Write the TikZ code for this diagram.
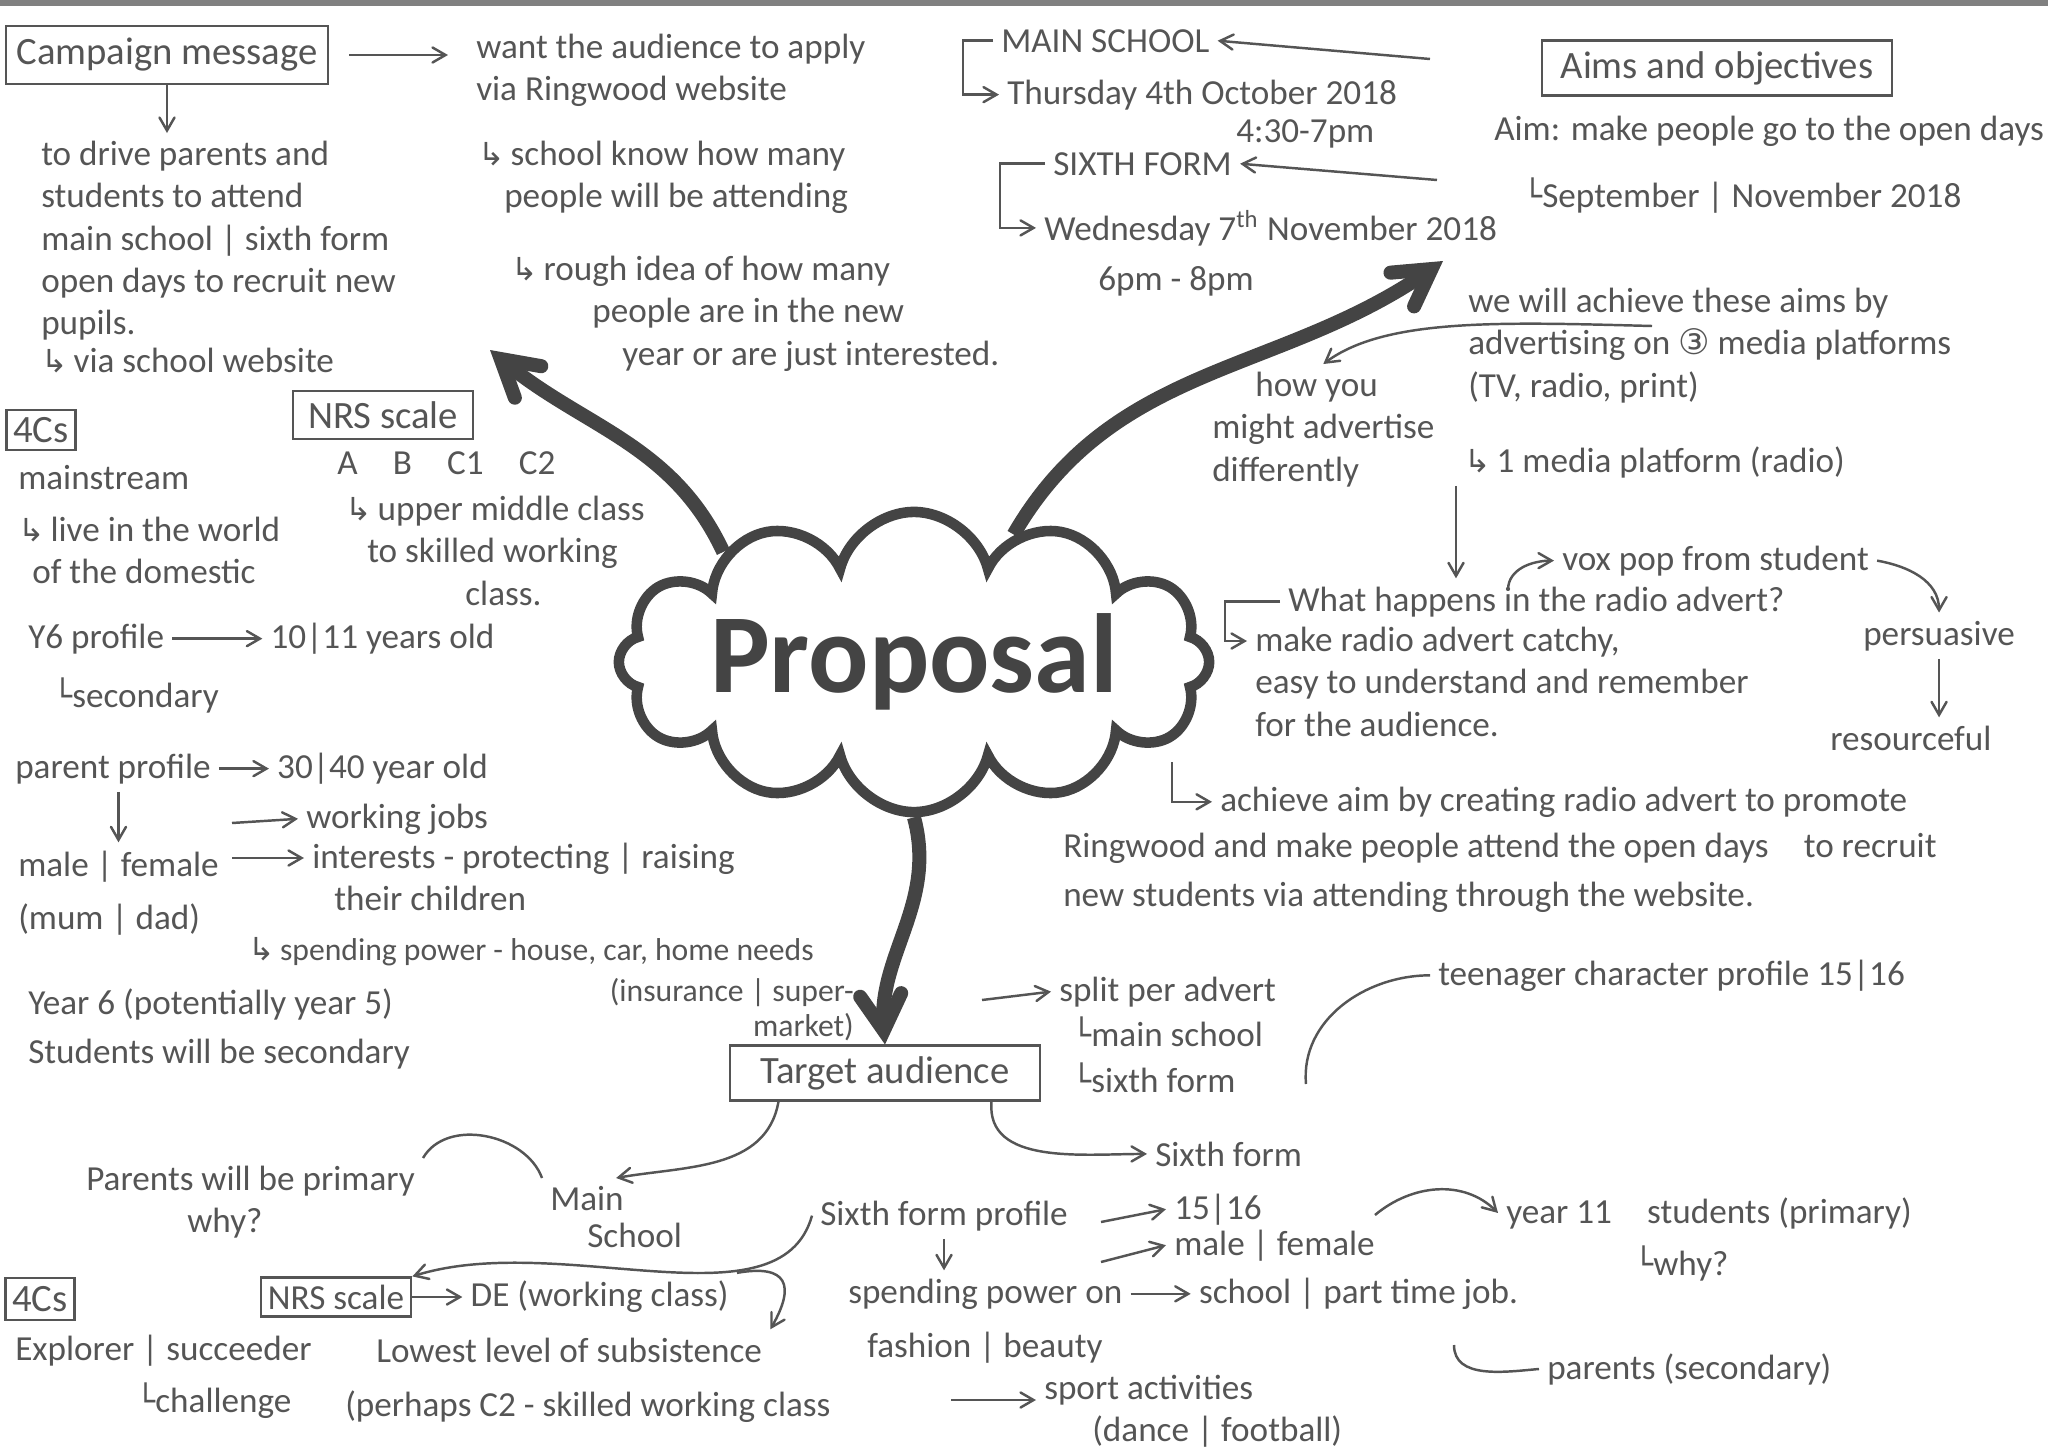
\documentclass[tikz,border=0pt]{standalone}
\usepackage{fontspec}
\setmainfont{Carlito}
\newfontfamily\symfont{DejaVu Sans}
\usepackage{tikz}
\usetikzlibrary{positioning,shapes.symbols,arrows}
\definecolor{pen}{HTML}{555555}
\definecolor{marker}{HTML}{444444}
\newcommand{\hk}{{\symfont\small ↳}\,}
\newcommand{\crn}{{\symfont\small └}}

\begin{document}
\begin{tikzpicture}[->,>=angle 60,x=0.01cm,y=-0.01cm,color=pen,line width=0.7pt,
    note/.style={anchor=base west,align=left,inner sep=2pt,font=\fontsize{10}{12}\selectfont},
    block/.style={note,anchor=north west},
    small/.style={font=\fontsize{9}{10}\selectfont},
    box/.style={draw,rectangle,inner sep=3pt,font=\fontsize{11}{13}\selectfont},
    marker/.style={draw=marker,line width=4pt}]
    \useasboundingbox (0,0) rectangle (2048,1448);
    \draw[-,line width=1.5pt,gray] (0,3) -- (2048,3);

    % campaign message
    \node[box,minimum width=3.1cm,minimum height=0.58cm] (CM) at (167,55) {Campaign message};
    \node[block] (WA) at (468,26) {want the audience to apply\\via Ringwood website};
    \draw[shorten <=2mm,shorten >=2mm] (CM.east) -- (CM.east -| WA.west);
    \node[block] (DR) at (33,133) {to drive parents and\\students to attend\\main school | sixth form\\open days to recruit new\\pupils.};
    \draw (CM.south) -- (CM.south |- DR.north);
    \node[note] (VS) at (33,372) {\hk via school website};
    \node[block] (SK) at (470,133) {\hk school know how many\\\hspace*{0.26cm}people will be attending};
    \node[block] (RI) at (503,248) {\hk rough idea of how many\\\hspace*{0.81cm}people are in the new\\\hspace*{1.11cm}year or are just interested.};

    % open days
    \node[note] (MS) at (993,52) {MAIN SCHOOL};
    \node[note] (TH) at (999,104) {Thursday 4th October 2018};
    \node[note] (TM) at (1228,142) {4:30-7pm};
    \node[note] (SF) at (1045,175) {SIXTH FORM};
    \node[note] (WE) at (1036,240) {Wednesday 7\textsuperscript{th} November 2018};
    \node[note] (PM) at (1090,290) {6pm - 8pm};
    \coordinate (msT) at (1430,59);
    \coordinate (sfT) at (1437,180);
    \draw (msT) -- (MS.east);
    \draw (sfT) -- (SF.east);
    \draw (MS.west) -- ++(-30,0) |- (TH.west);
    \draw (SF.west) -- ++(-45,0) |- (WE.west);

    % aims and objectives
    \node[box,minimum width=3.5cm,minimum height=0.5cm] (AO) at (1717,68) {Aims and objectives};
    \node[note] (AIM) at (1486,140) {Aim: make people go to the open days};
    \node[note] (SEP) at (1515,207) {\crn September | November 2018};
    \node[block] (WW) at (1460,280) {we will achieve these aims by\\advertising on {\symfont ③} media platforms\\(TV, radio, print)};
    \node[block] (HY) at (1204,364) {\hspace*{0.43cm}how you\\might advertise\\differently};
    \coordinate (hyT) at (1652,326);
    \draw (hyT) .. controls (1500,322) and (1385,318) .. (HY.north);
    \node[note] (MP) at (1456,472) {\hk 1 media platform (radio)};
    \node[note] (WH) at (1280,611) {What happens in the radio advert?};
    \draw (MP.south west) -- (MP.south west |- WH.north);
    \node[note] (VP) at (1554,570) {vox pop from student};
    \coordinate (vpT) at (1508,590);
    \draw (vpT) to[out=90,in=180] (VP.west);
    \node[note] (PE) at (1855,645) {persuasive};
    \draw (VP.east) to[out=-10,in=90] (PE.north);
    \node[note] (RF) at (1822,750) {resourceful};
    \draw (PE.south) -- (PE.south |- RF.north);
    \node[block] (MR) at (1247,619) {make radio advert catchy,\\easy to understand and remember\\for the audience.};
    \draw (WH.west) -- ++(-55,0) |- ([yshift=-2.2mm]MR.north west);
    \coordinate (aaT) at (1172,762);
    \node[note] (AA) at (1212,811) {achieve aim by creating radio advert to promote};
    \draw (aaT) |- (AA.west);
    \node[block] (RW) at (1055,825) {Ringwood and make people attend the open days\quad to recruit\\[2pt]new students via attending through the website.};

    % 4Cs and NRS scale
    \node[box,inner sep=2pt,minimum width=0.62cm,minimum height=0.4cm] (C4) at (41,430) {4Cs};
    \node[box,minimum width=1.8cm,minimum height=0.44cm] (NR) at (383,415) {NRS scale};
    \node[note] (MA) at (10,489) {mainstream};
    \node[block] (LW) at (10,509) {\hk live in the world\\\hspace*{0.14cm}of the domestic};
    \node[note] (AB) at (329,474) {A\quad B\quad C1\quad C2};
    \node[block] (UM) at (337,488) {\hk upper middle class\\\hspace*{0.22cm}to skilled working\\\hspace*{1.2cm}class.};
    \node[note] (Y6) at (20,648) {Y6 profile};
    \node[note,right=9mm of Y6] (YO) {10|11 years old};
    \draw (Y6) -- (YO);
    \node[note] (SC) at (45,707) {\crn secondary};
    \node[note] (PP) at (7,778) {parent profile};
    \node[note,right=5mm of PP] (PO) {30|40 year old};
    \draw (PP) -- (PO);
    \node[note] (MF) at (10,876) {male | female};
    \draw (MF.north |- PP.south) -- (MF.north);
    \coordinate (wjT) at (232,823);
    \node[note] (WJ) at (298,828) {working jobs};
    \draw (wjT) -- (WJ.west);
    \coordinate (inT) at (232,858);
    \node[block] (IN) at (304,835) {interests - protecting | raising\\\hspace*{0.22cm}their children};
    \draw (inT) -- (inT -| IN.west);
    \node[note] (MD) at (10,929) {(mum | dad)};
    \node[note,small] (SP) at (240,960) {\hk spending power - house, car, home needs};
    \node[note,small,align=right,anchor=north east] (IS) at (862,970) {(insurance | super-\\market)};
    \node[note] (Y5) at (20,1014) {Year 6 (potentially year 5)};
    \node[note] (SS) at (20,1063) {Students will be secondary};

    % proposal
    \node[draw=marker,line width=3pt,cloud,cloud puffs=12,cloud ignores aspect,minimum width=5.9cm,minimum height=3cm] (PR) at (914,662) {};
    \node[font=\fontsize{32}{38}\selectfont\bfseries,text=marker] (PT) at (PR) {Proposal};
    \coordinate (cmE) at (490,350);
    \coordinate (aoE) at (1443,261);
    \draw[marker] (PR.150) to[out=115,in=-40] (cmE);
    \draw[marker] (PR.52) to[out=60,in=-145] (aoE);

    % target audience
    \node[box,minimum width=3.1cm,minimum height=0.5cm] (TA) at (885,1073) {Target audience};
    \draw[marker] (PR.south) to[out=-75,in=95] (TA.north);
    \coordinate (saT) at (982,1000);
    \node[note] (SA) at (1051,1001) {split per advert};
    \draw (saT) -- (SA.west);
    \node[note] (SM) at (1064,1046) {\crn main school};
    \node[note] (SX) at (1064,1092) {\crn sixth form};
    \coordinate (tcT) at (1306,1084);
    \node[note] (TC) at (1430,985) {teenager character profile 15|16};
    \draw[-] (tcT) to[out=95,in=180] (TC.west);
    \node[note] (S6) at (1147,1166) {Sixth form};
    \draw (TA.-15) to[out=-95,in=180] (S6.west);
    \node[block] (MN) at (542,1178) {Main\\[-1.5pt]\hspace*{0.37cm}School};
    \draw (TA.195) to[out=-100,in=10] (MN.north);
    \node[block] (PRI) at (78,1158) {Parents will be primary\\\hspace*{1.01cm}why?};
    \draw[-] (PRI.north east) to[out=60,in=110] (MN.north west);
    \node[note] (SFP) at (812,1225) {Sixth form profile};
    \node[note] (N15) at (1166,1219) {15|16};
    \coordinate (n15T) at (1101,1222);
    \draw (n15T) -- (N15.west);
    \node[note] (NMF) at (1166,1255) {male | female};
    \coordinate (nmfT) at (1101,1262);
    \draw (nmfT) -- (NMF.west);
    \node[note] (SPO) at (840,1303) {spending power on};
    \draw (SFP.south) -- (SFP.south |- SPO.north);
    \node[note,right=6mm of SPO] (SJ) {school | part time job.};
    \draw (SPO) -- (SJ);
    \node[note] (FB) at (859,1357) {fashion | beauty};
    \coordinate (sacT) at (951,1400);
    \node[block] (SAC) at (1036,1367) {sport activities\\\hspace*{0.48cm}(dance | football)};
    \draw (sacT) -- (sacT -| SAC.west);
    \node[note] (Y11) at (1498,1223) {year 11\quad students (primary)};
    \coordinate (y11T) at (1375,1215);
    \draw (y11T) to[out=40,in=135] (Y11.west);
    \node[note] (WHY) at (1626,1275) {\crn why?};
    \coordinate (paT) at (1454,1345);
    \node[note] (PA) at (1539,1379) {parents (secondary)};
    \draw[-] (paT) to[out=-90,in=185] (PA.west);

    % bottom 4Cs and NRS scale
    \node[box,inner sep=2pt,minimum width=0.6cm,minimum height=0.42cm] (C42) at (40,1299) {4Cs};
    \node[box,inner sep=2pt,font=\fontsize{10}{12}\selectfont] (NB) at (336,1297) {NRS scale};
    \draw (SFP.west) .. controls (780,1330) and (560,1230) .. (NB.north east);
    \node[note,right=5mm of NB] (DE) {DE (working class)};
    \draw (NB) -- (DE);
    \node[note] (EX) at (7,1360) {Explorer | succeeder};
    \node[note] (CH) at (128,1412) {\crn challenge};
    \node[note] (LL) at (368,1362) {Lowest level of subsistence};
    \draw (DE.north east) to[out=10,in=60,looseness=2] (LL.north east);
    \node[note] (PC) at (337,1416) {(perhaps C2 - skilled working class};
\end{tikzpicture}
\end{document}
